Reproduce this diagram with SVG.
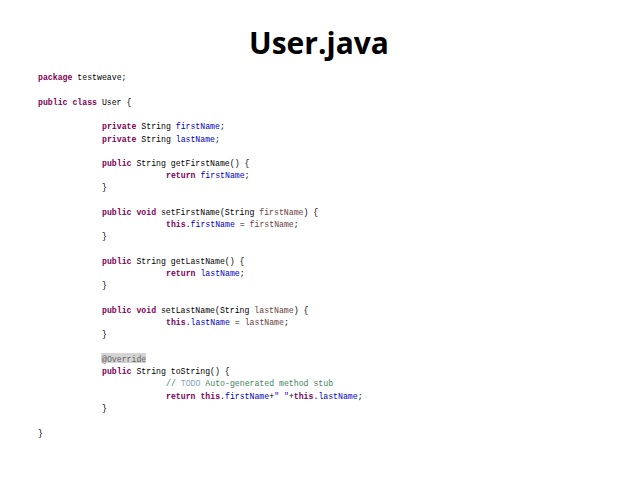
<svg xmlns="http://www.w3.org/2000/svg" width="638" height="478" viewBox="0 0 638 478">
<style>
.c{font-family:"Liberation Mono",monospace;font-size:8.2px;fill:#000}
.k{fill:#7f0055;font-weight:bold}.f{fill:#0000c0}.p{fill:#6a3e3e}.cm{fill:#3f7f5f}.td{fill:#7f9fbf}.an{fill:#646464}
</style>
<rect width="638" height="478" fill="#fff"/>
<text x="319" y="54" text-anchor="middle" font-family="Open Sans,sans-serif" font-weight="bold" font-size="30" fill="#000">User.java</text>
<rect x="101" y="353" width="45" height="10" fill="#d4d4d4"/>
<g class="c">
<text x="38" y="80"><tspan class="k">package</tspan> testweave;</text>
<text x="38" y="105"><tspan class="k">public class</tspan> User {</text>
<text x="102" y="129"><tspan class="k">private</tspan> String <tspan class="f">firstName</tspan>;</text>
<text x="102" y="142"><tspan class="k">private</tspan> String <tspan class="f">lastName</tspan>;</text>
<text x="102" y="166"><tspan class="k">public</tspan> String getFirstName() {</text>
<text x="166" y="178"><tspan class="k">return</tspan> <tspan class="f">firstName</tspan>;</text>
<text x="102" y="190">}</text>
<text x="102" y="215"><tspan class="k">public void</tspan> setFirstName(String <tspan class="p">firstName</tspan>) {</text>
<text x="166" y="227"><tspan class="k">this</tspan>.<tspan class="f">firstName</tspan> = <tspan class="p">firstName</tspan>;</text>
<text x="102" y="239">}</text>
<text x="102" y="264"><tspan class="k">public</tspan> String getLastName() {</text>
<text x="166" y="276"><tspan class="k">return</tspan> <tspan class="f">lastName</tspan>;</text>
<text x="102" y="288">}</text>
<text x="102" y="313"><tspan class="k">public void</tspan> setLastName(String <tspan class="p">lastName</tspan>) {</text>
<text x="166" y="325"><tspan class="k">this</tspan>.<tspan class="f">lastName</tspan> = <tspan class="p">lastName</tspan>;</text>
<text x="102" y="337">}</text>
<text x="102" y="362" class="an">@Override</text>
<text x="102" y="374"><tspan class="k">public</tspan> String toString() {</text>
<text x="166" y="386" class="cm">// <tspan class="td">TODO</tspan> Auto-generated method stub</text>
<text x="166" y="399"><tspan class="k">return this</tspan>.<tspan class="f">firstName</tspan>+<tspan fill="#2a00ff">" "</tspan>+<tspan class="k">this</tspan>.<tspan class="f">lastName</tspan>;</text>
<text x="102" y="411">}</text>
<text x="38" y="436">}</text>
</g>
</svg>
